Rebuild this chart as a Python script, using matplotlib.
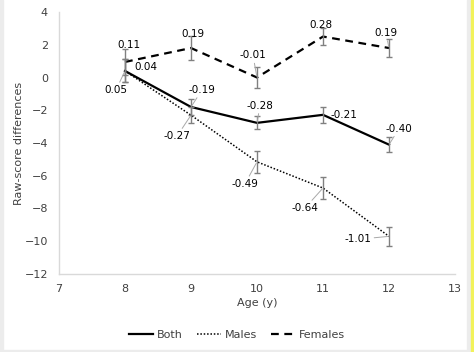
import matplotlib
matplotlib.use("Agg")
import matplotlib.pyplot as plt
from matplotlib.patches import Rectangle

ages = [8, 9, 10, 11, 12]
both = [0.4, -1.8, -2.77, -2.28, -4.1]
males = [0.4, -2.3, -5.15, -6.75, -9.7]
females = [0.95, 1.8, 0.0, 2.5, 1.8]
both_err = [0.7, 0.5, 0.4, 0.5, 0.45]
males_err = [0.7, 0.5, 0.67, 0.7, 0.6]
females_err = [0.8, 0.75, 0.65, 0.5, 0.55]
both_lab = ["0.04", "-0.19", "-0.28", "-0.21", "-0.40"]
males_lab = ["0.05", "-0.27", "-0.49", "-0.64", "-1.01"]
females_lab = ["0.11", "0.19", "-0.01", "0.28", "0.19"]
xticks = [7, 8, 9, 10, 11, 12, 13]
yticks = [4, 2, 0, -2, -4, -6, -8, -10, -12]

plt.rcParams['font.family'] = ['DejaVu Sans']
fig = plt.figure(figsize=(4.74, 3.52), dpi=100)
# frame border strips
fig.patches.append(Rectangle((0, 0), 3/474, 1, transform=fig.transFigure, color='#ececec', zorder=0))
fig.patches.append(Rectangle((0, 0), 1, 2/352, transform=fig.transFigure, color='#ececec', zorder=0))
fig.patches.append(Rectangle((467/474, 0), 4/474, 1, transform=fig.transFigure, color='#ececec', zorder=0))
fig.patches.append(Rectangle((471/474, 0), 3/474, 1, transform=fig.transFigure, color='#f2f25a', zorder=0))

ax = fig.add_axes([59/474, 1 - 274/352, (455 - 59)/474, (274 - 12)/352])

tc = '#404040'
fs = 7.5
tfs = 8
ecol = '#808080'

l1, = ax.plot(ages, both, color='black', lw=1.6, ls='-', zorder=3)
l2, = ax.plot(ages, males, color='black', lw=1.1, ls=(0, (1, 1.2)), zorder=3)
l3, = ax.plot(ages, females, color='black', lw=1.6, ls=(0, (3.5, 2.5)), zorder=3)
for vals, errs in [(both, both_err), (males, males_err), (females, females_err)]:
    ax.errorbar(ages, vals, yerr=errs, fmt='none', ecolor=ecol, elinewidth=1.0,
                capsize=2.2, capthick=1.0, zorder=4)

# label offsets in pixels (x right, y up)
both_off = [(21, 4), (11, 17), (3, 17), (21, 0), (10, 16)]
males_off = [(-9, -19), (-14, -21), (-12, -22), (-18, -20), (-31, -3)]
females_off = [(4, 17), (2, 14), (-4, 22), (-2, 12), (-3, 15)]
both_lead = [False, True, True, False, True]
males_lead = [True, True, True, True, True]
females_lead = [False, False, True, False, True]

for vals, labs, offs, leads in [(both, both_lab, both_off, both_lead),
                                (males, males_lab, males_off, males_lead),
                                (females, females_lab, females_off, females_lead)]:
    for x, y, t, o, ld in zip(ages, vals, labs, offs, leads):
        kw = {}
        if ld:
            kw['arrowprops'] = dict(arrowstyle='-', color='#a8a8a8', lw=0.7,
                                    shrinkA=0, shrinkB=1)
        ax.annotate(t, (x, y), xytext=o, textcoords='offset pixels',
                    ha='center', va='center', fontsize=fs, color='black',
                    zorder=5, **kw)

ax.set_xlim(7, 13)
ax.set_ylim(-12, 4)
ax.set_xticks(xticks)
ax.set_yticks(yticks)
ax.tick_params(length=0, labelsize=tfs, labelcolor=tc, pad=7)
ax.tick_params(axis='y', pad=8)
for s in ['top', 'right']:
    ax.spines[s].set_visible(False)
for s in ['left', 'bottom']:
    ax.spines[s].set_color('#d9d9d9')
    ax.spines[s].set_linewidth(1.0)

ax.set_xlabel('Age (y)', fontsize=tfs, color=tc, labelpad=3)
ax.set_ylabel('Raw-score differences', fontsize=tfs, color=tc, labelpad=0)

fig.legend([l1, l2, l3], ['Both', 'Males', 'Females'], loc='center',
           bbox_to_anchor=(0.5, 1 - 335/352), ncol=3, frameon=False,
           fontsize=tfs, handlelength=2.2, handletextpad=0.3, columnspacing=1.3,
           labelcolor=tc)

fig.savefig('out.png', dpi=100)
